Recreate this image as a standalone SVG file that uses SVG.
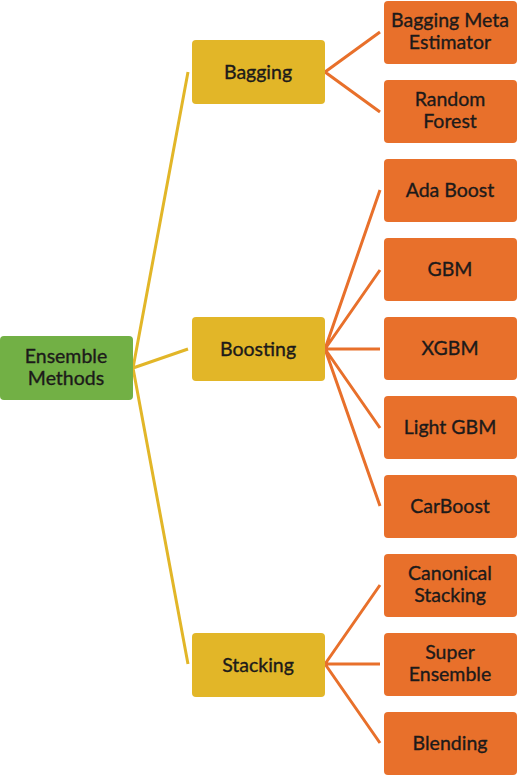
<svg xmlns="http://www.w3.org/2000/svg" width="518" height="777" viewBox="0 0 518 777">
<style>
.g{fill:#72b045}
.y{fill:#e2b628}
.o{fill:#e8702b}
text{font-family:Lato,"Open Sans","Liberation Sans",sans-serif;font-size:19.5px;fill:#1c1a1a;stroke:#1c1a1a;stroke-width:0.35;text-anchor:middle}
.cy{stroke:#e2b628;stroke-width:3;fill:none}
.co{stroke:#e8702b;stroke-width:3;fill:none}
</style>
<rect width="518" height="777" fill="#ffffff"/>
<g id="connectors">
<path class="cy" d="M133,368 L188,72 M133,368 L188,349 M133,368 L188,664"/>
<path class="co" d="M325,72 L380,32 M325,72 L380,112"/>
<path class="co" d="M325,349 L380,190 M325,349 L380,270 M325,349 L380,349 M325,349 L380,428 M325,349 L380,506"/>
<path class="co" d="M325,664 L380,585 M325,664 L380,664 M325,664 L380,743"/>
</g>
<g id="ensemble"><rect class="g" x="0" y="336" width="133" height="64" rx="4"/><text x="66" y="363">Ensemble</text><text x="66" y="385">Methods</text></g>
<g id="bagging"><rect class="y" x="192" y="40" width="133" height="64" rx="4"/><text x="258" y="79">Bagging</text></g>
<g id="boosting"><rect class="y" x="192" y="317" width="133" height="64" rx="4"/><text x="258" y="356">Boosting</text></g>
<g id="stacking"><rect class="y" x="192" y="633" width="133" height="64" rx="4"/><text x="258" y="672">Stacking</text></g>
<g id="bme"><rect class="o" x="384" y="1" width="133" height="63" rx="4"/><text x="450" y="27">Bagging Meta</text><text x="450" y="49">Estimator</text></g>
<g id="rf"><rect class="o" x="384" y="80" width="133" height="63" rx="4"/><text x="450" y="106">Random</text><text x="450" y="128">Forest</text></g>
<g id="ada"><rect class="o" x="384" y="159" width="133" height="63" rx="4"/><text x="450" y="197">Ada Boost</text></g>
<g id="gbm"><rect class="o" x="384" y="238" width="133" height="63" rx="4"/><text x="450" y="276">GBM</text></g>
<g id="xgbm"><rect class="o" x="384" y="317" width="133" height="63" rx="4"/><text x="450" y="355">XGBM</text></g>
<g id="lgbm"><rect class="o" x="384" y="396" width="133" height="63" rx="4"/><text x="450" y="434">Light GBM</text></g>
<g id="carboost"><rect class="o" x="384" y="475" width="133" height="63" rx="4"/><text x="450" y="513">CarBoost</text></g>
<g id="canon"><rect class="o" x="384" y="554" width="133" height="63" rx="4"/><text x="450" y="580">Canonical</text><text x="450" y="602">Stacking</text></g>
<g id="super"><rect class="o" x="384" y="633" width="133" height="63" rx="4"/><text x="450" y="659">Super</text><text x="450" y="681">Ensemble</text></g>
<g id="blend"><rect class="o" x="384" y="712" width="133" height="63" rx="4"/><text x="450" y="750">Blending</text></g>
</svg>
